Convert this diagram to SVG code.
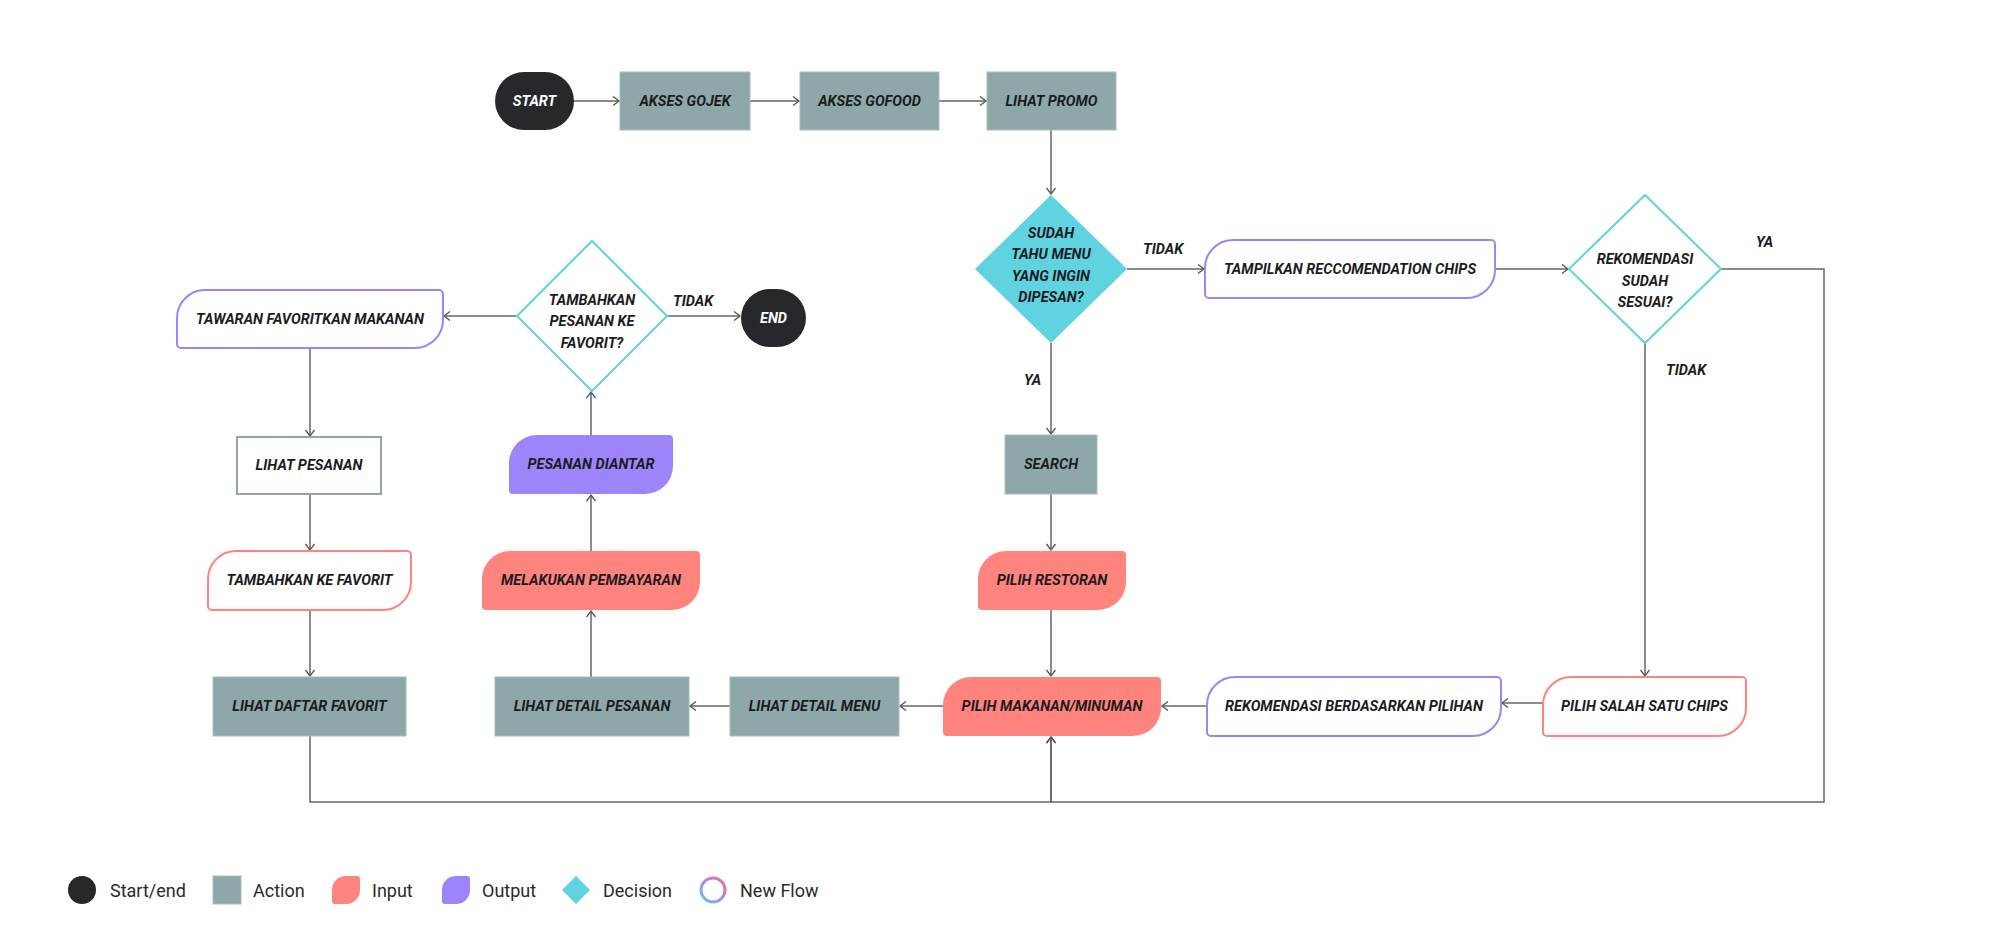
<svg xmlns="http://www.w3.org/2000/svg" width="2000" height="935" viewBox="0 0 2000 935">
<style>
.t{font-family:Roboto,"Liberation Sans",sans-serif;font-size:14.5px;font-weight:700;font-style:italic;fill:#1c1c1e;text-anchor:middle;dominant-baseline:central}
.lbl{font-family:Roboto,"Liberation Sans",sans-serif;font-size:14.5px;font-weight:700;font-style:italic;fill:#1c1c1e;dominant-baseline:central}
.lg{font-family:Roboto,"Liberation Sans",sans-serif;font-size:18px;fill:#2a2a2a;dominant-baseline:central}
.se{fill:#27282c}
.act{fill:#8ea8a9;stroke:#a7bcbd;stroke-width:1}
.inF{fill:#ff847e}
.inO{fill:#fff;stroke:#ff847e;stroke-width:2}
.outF{fill:#9e84fb}
.outO{fill:#fff;stroke:#9e84fb;stroke-width:2}
.decF{fill:#5fd3df}
.decO{fill:#fff;stroke:#5fd3df;stroke-width:2}
.c{fill:none;stroke:#666;stroke-width:1.5}
</style>
<defs>
<marker id="ah" markerUnits="userSpaceOnUse" markerWidth="10" markerHeight="12" refX="7" refY="5" orient="auto">
<path d="M1,0.5 L7,5 L1,9.5" fill="none" stroke="#555" stroke-width="1.3"/>
</marker>
<linearGradient id="nf" x1="1" y1="0" x2="0" y2="1">
<stop offset="0" stop-color="#f56b8a"/>
<stop offset="0.5" stop-color="#a78bf5"/>
<stop offset="1" stop-color="#5ec8ee"/>
</linearGradient>
</defs>

<g id="connectors">
<path class="c" d="M574,101 H619" marker-end="url(#ah)"/>
<path class="c" d="M750,101 H799" marker-end="url(#ah)"/>
<path class="c" d="M939,101 H986" marker-end="url(#ah)"/>
<path class="c" d="M1051,130 V194" marker-end="url(#ah)"/>
<path class="c" d="M1127,269 H1204" marker-end="url(#ah)"/>
<path class="c" d="M1495,269 H1568" marker-end="url(#ah)"/>
<path class="c" d="M1051,343 V434" marker-end="url(#ah)"/>
<path class="c" d="M1051,494 V550" marker-end="url(#ah)"/>
<path class="c" d="M1051,610 V676" marker-end="url(#ah)"/>
<path class="c" d="M1645,343 V676" marker-end="url(#ah)"/>
<path class="c" d="M1543,703 H1502" marker-end="url(#ah)"/>
<path class="c" d="M1207,706 H1162" marker-end="url(#ah)"/>
<path class="c" d="M943,706 H900" marker-end="url(#ah)"/>
<path class="c" d="M730,706 H690" marker-end="url(#ah)"/>
<path class="c" d="M591,677 V611" marker-end="url(#ah)"/>
<path class="c" d="M591,551 V495" marker-end="url(#ah)"/>
<path class="c" d="M591,435 V392" marker-end="url(#ah)"/>
<path class="c" d="M667,316 H740" marker-end="url(#ah)"/>
<path class="c" d="M517,316 H444" marker-end="url(#ah)"/>
<path class="c" d="M310,348 V436" marker-end="url(#ah)"/>
<path class="c" d="M310,494 V550" marker-end="url(#ah)"/>
<path class="c" d="M310,610 V676" marker-end="url(#ah)"/>
<path class="c" d="M1721,269 H1824 V802 H1051 V737" marker-end="url(#ah)"/>
<path class="c" d="M310,736 V802 H1051 V737" marker-end="url(#ah)"/>
<text class="lbl" x="1143" y="249">TIDAK</text>
<text class="lbl" x="1024" y="380">YA</text>
<text class="lbl" x="1756" y="242">YA</text>
<text class="lbl" x="1666" y="370">TIDAK</text>
<text class="lbl" x="673" y="301">TIDAK</text>
</g>

<g id="start"><rect class="se" x="495" y="72" width="79" height="58" rx="29"/><text class="t" x="534.5" y="101" style="fill:#fff">START</text></g>
<g id="akses-gojek"><rect class="act" x="620" y="72" width="130" height="58"/><text class="t" x="685" y="101">AKSES GOJEK</text></g>
<g id="akses-gofood"><rect class="act" x="800" y="72" width="139" height="58"/><text class="t" x="869.5" y="101">AKSES GOFOOD</text></g>
<g id="lihat-promo"><rect class="act" x="987" y="72" width="129" height="58"/><text class="t" x="1051.5" y="101">LIHAT PROMO</text></g>

<g id="dec-tahu-menu"><polygon class="decF" points="1051,195 1127,269 1051,343 975,269"/>
<text class="t" x="1051" y="233">SUDAH</text><text class="t" x="1051" y="254">TAHU MENU</text><text class="t" x="1051" y="276">YANG INGIN</text><text class="t" x="1051" y="297">DIPESAN?</text></g>

<g id="tampilkan-chips"><path class="outO" d="M1233,240 H1491 A4 4 0 0 1 1495,244 V270 A28 28 0 0 1 1467,298 H1209 A4 4 0 0 1 1205,294 V268 A28 28 0 0 1 1233,240 Z"/><text class="t" x="1350" y="269">TAMPILKAN RECCOMENDATION CHIPS</text></g>

<g id="dec-rekomendasi"><polygon class="decO" points="1645,195 1721,269 1645,343 1569,269"/>
<text class="t" x="1645" y="259">REKOMENDASI</text><text class="t" x="1645" y="281">SUDAH</text><text class="t" x="1645" y="302">SESUAI?</text></g>

<g id="search"><rect class="act" x="1005" y="435" width="92" height="59"/><text class="t" x="1051" y="464.5">SEARCH</text></g>
<g id="pilih-restoran"><path class="inF" d="M1006,551 H1122 A4 4 0 0 1 1126,555 V582 A28 28 0 0 1 1098,610 H982 A4 4 0 0 1 978,606 V579 A28 28 0 0 1 1006,551 Z"/><text class="t" x="1052" y="580.5">PILIH RESTORAN</text></g>
<g id="pilih-makanan"><path class="inF" d="M971,677 H1157 A4 4 0 0 1 1161,681 V708 A28 28 0 0 1 1133,736 H947 A4 4 0 0 1 943,732 V705 A28 28 0 0 1 971,677 Z"/><text class="t" x="1052" y="706.5">PILIH MAKANAN/MINUMAN</text></g>
<g id="rekomendasi-pilihan"><path class="outO" d="M1235,677 H1497 A4 4 0 0 1 1501,681 V708 A28 28 0 0 1 1473,736 H1211 A4 4 0 0 1 1207,732 V705 A28 28 0 0 1 1235,677 Z"/><text class="t" x="1354" y="706.5">REKOMENDASI BERDASARKAN PILIHAN</text></g>
<g id="pilih-chips"><path class="inO" d="M1571,677 H1742 A4 4 0 0 1 1746,681 V708 A28 28 0 0 1 1718,736 H1547 A4 4 0 0 1 1543,732 V705 A28 28 0 0 1 1571,677 Z"/><text class="t" x="1644.5" y="706.5">PILIH SALAH SATU CHIPS</text></g>
<g id="lihat-detail-menu"><rect class="act" x="730" y="677" width="169" height="59"/><text class="t" x="814.5" y="706.5">LIHAT DETAIL MENU</text></g>
<g id="lihat-detail-pesanan"><rect class="act" x="495" y="677" width="194" height="59"/><text class="t" x="592" y="706.5">LIHAT DETAIL PESANAN</text></g>
<g id="melakukan-pembayaran"><path class="inF" d="M510,551 H696 A4 4 0 0 1 700,555 V582 A28 28 0 0 1 672,610 H486 A4 4 0 0 1 482,606 V579 A28 28 0 0 1 510,551 Z"/><text class="t" x="591" y="580.5">MELAKUKAN PEMBAYARAN</text></g>
<g id="pesanan-diantar"><path class="outF" d="M537,435 H669 A4 4 0 0 1 673,439 V466 A28 28 0 0 1 645,494 H513 A4 4 0 0 1 509,490 V463 A28 28 0 0 1 537,435 Z"/><text class="t" x="591" y="464.5">PESANAN DIANTAR</text></g>

<g id="dec-favorit"><polygon class="decO" points="592,241 667,316 592,391 517,316"/>
<text class="t" x="592" y="300">TAMBAHKAN</text><text class="t" x="592" y="321">PESANAN KE</text><text class="t" x="592" y="343">FAVORIT?</text></g>
<g id="end"><rect class="se" x="741" y="289" width="65" height="58" rx="29"/><text class="t" x="773.5" y="318" style="fill:#fff">END</text></g>

<g id="tawaran-favorit"><path class="outO" d="M205,290 H439 A4 4 0 0 1 443,294 V320 A28 28 0 0 1 415,348 H181 A4 4 0 0 1 177,344 V318 A28 28 0 0 1 205,290 Z"/><text class="t" x="310" y="319">TAWARAN FAVORITKAN MAKANAN</text></g>
<g id="lihat-pesanan"><rect x="237" y="437" width="144" height="57" fill="#fff" stroke="#8ea8a9" stroke-width="2"/><text class="t" x="309" y="465.5">LIHAT PESANAN</text></g>
<g id="tambahkan-favorit"><path class="inO" d="M236,551 H407 A4 4 0 0 1 411,555 V582 A28 28 0 0 1 383,610 H212 A4 4 0 0 1 208,606 V579 A28 28 0 0 1 236,551 Z"/><text class="t" x="309.5" y="580.5">TAMBAHKAN KE FAVORIT</text></g>
<g id="lihat-daftar-favorit"><rect class="act" x="213" y="677" width="193" height="59"/><text class="t" x="309.5" y="706.5">LIHAT DAFTAR FAVORIT</text></g>

<g id="legend">
<circle class="se" cx="82" cy="890" r="14"/><text class="lg" x="110" y="890">Start/end</text>
<rect class="act" x="213" y="876" width="28" height="28"/><text class="lg" x="253" y="890">Action</text>
<path class="inF" d="M346,876 H357 A3 3 0 0 1 360,879 V890 A14 14 0 0 1 346,904 H335 A3 3 0 0 1 332,901 V890 A14 14 0 0 1 346,876 Z"/><text class="lg" x="372" y="890">Input</text>
<path class="outF" d="M456,876 H467 A3 3 0 0 1 470,879 V890 A14 14 0 0 1 456,904 H445 A3 3 0 0 1 442,901 V890 A14 14 0 0 1 456,876 Z"/><text class="lg" x="482" y="890">Output</text>
<polygon class="decF" points="576,876 590,890 576,904 562,890"/><text class="lg" x="603" y="890">Decision</text>
<circle cx="713" cy="890" r="12" fill="none" stroke="url(#nf)" stroke-width="3"/><text class="lg" x="740" y="890">New Flow</text>
</g>
</svg>
